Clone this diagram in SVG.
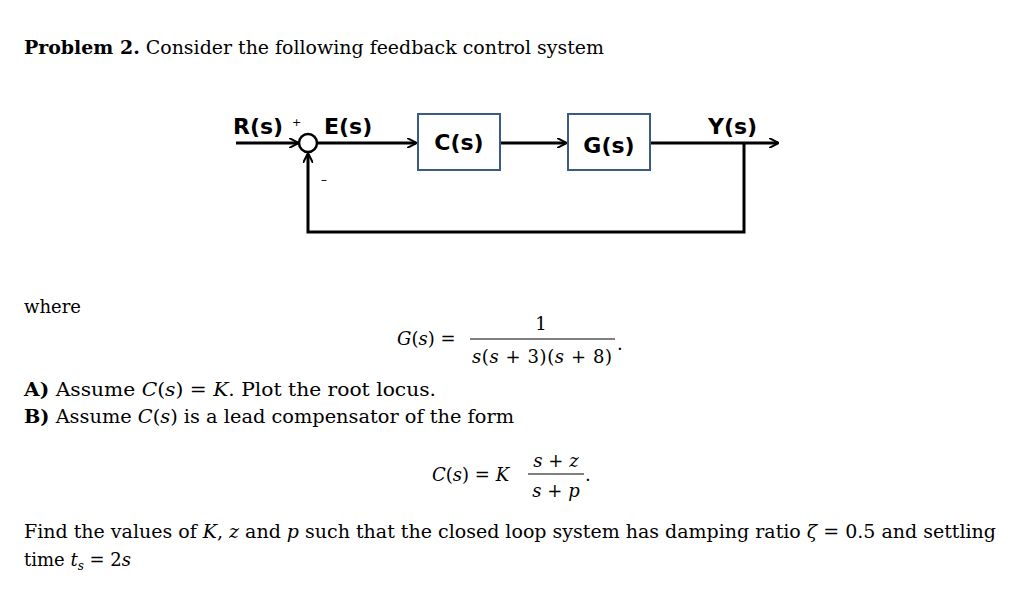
<svg xmlns="http://www.w3.org/2000/svg" width="1024" height="591" viewBox="0 0 1024 591">
<style>
.t{font-family:"DejaVu Serif",serif;font-size:18px;fill:#000}
.i{font-style:italic}
.b{font-family:"DejaVu Sans",sans-serif;font-weight:bold;font-size:22px;fill:#000}
.box{fill:#fff;stroke:#3b5a84;stroke-width:2}
.ln{fill:none;stroke:#000;stroke-width:3}
</style>
<defs><marker id="a" markerWidth="10" markerHeight="10" refX="9" refY="5" orient="auto" markerUnits="userSpaceOnUse"><path d="M0,0 L10,5 L0,10" fill="none" stroke="#000" stroke-width="2"/></marker></defs>
<rect width="1024" height="591" fill="#fff"/>
<text class="t" x="24" y="54" textLength="580" lengthAdjust="spacingAndGlyphs"><tspan font-weight="bold">Problem 2.</tspan> Consider the following feedback control system</text>
<g id="connectors">
<path class="ln" d="M236,143 H298" marker-end="url(#a)"/>
<path class="ln" d="M317,143 H416" marker-end="url(#a)"/>
<path class="ln" d="M500,143 H566" marker-end="url(#a)"/>
<path class="ln" d="M650,143 H778" marker-end="url(#a)"/>
<path class="ln" d="M744,143 V232 H308 V154" marker-end="url(#a)"/>
</g>
<g id="sum"><circle cx="308" cy="143" r="9" fill="#fff" stroke="#000" stroke-width="2.5"/>
<text x="292" y="126" font-family="DejaVu Sans,sans-serif" font-size="11">+</text>
<text x="321" y="184" font-family="DejaVu Sans,sans-serif" font-size="12">–</text></g>
<g id="C"><rect class="box" x="418" y="114" width="82" height="56"/><text class="b" x="459" y="150" text-anchor="middle">C(s)</text></g>
<g id="G"><rect class="box" x="568" y="114" width="82" height="56"/><text class="b" x="609" y="153" text-anchor="middle">G(s)</text></g>
<text class="b" x="233" y="134">R(s)</text>
<text class="b" x="324" y="134">E(s)</text>
<text class="b" x="708" y="134">Y(s)</text>
<text class="t" x="24" y="313">where</text>
<text class="t" x="397" y="345"><tspan class="i">G</tspan>(<tspan class="i">s</tspan>) =</text>
<line x1="470" y1="339" x2="615" y2="339" stroke="#000" stroke-width="1"/>
<text class="t" x="541" y="330" text-anchor="middle">1</text>
<text class="t" x="472" y="363" textLength="140"><tspan class="i">s</tspan>(<tspan class="i">s</tspan> + 3)(<tspan class="i">s</tspan> + 8)</text>
<text class="t" x="617" y="350">.</text>
<text class="t" x="24" y="396" textLength="412" lengthAdjust="spacingAndGlyphs"><tspan font-weight="bold">A)</tspan> Assume <tspan class="i">C</tspan>(<tspan class="i">s</tspan>) = <tspan class="i">K</tspan>. Plot the root locus.</text>
<text class="t" x="24" y="423" textLength="490" lengthAdjust="spacingAndGlyphs"><tspan font-weight="bold">B)</tspan> Assume <tspan class="i">C</tspan>(<tspan class="i">s</tspan>) is a lead compensator of the form</text>
<text class="t" x="432" y="481"><tspan class="i">C</tspan>(<tspan class="i">s</tspan>) = <tspan class="i">K</tspan></text>
<line x1="528" y1="474" x2="584" y2="474" stroke="#000" stroke-width="1"/>
<text class="t" x="556" y="467" text-anchor="middle"><tspan class="i">s</tspan> + <tspan class="i">z</tspan></text>
<text class="t" x="556" y="497" text-anchor="middle"><tspan class="i">s</tspan> + <tspan class="i">p</tspan></text>
<text class="t" x="585" y="481">.</text>
<text class="t" x="24" y="538" textLength="972" lengthAdjust="spacingAndGlyphs">Find the values of <tspan class="i">K</tspan>, <tspan class="i">z</tspan> and <tspan class="i">p</tspan> such that the closed loop system has damping ratio <tspan class="i">ζ</tspan> = 0.5 and settling</text>
<text class="t" x="24" y="566">time <tspan class="i">t</tspan><tspan font-size="12" class="i" dy="4">s</tspan><tspan dy="-4"> = 2</tspan><tspan class="i">s</tspan></text>
</svg>
